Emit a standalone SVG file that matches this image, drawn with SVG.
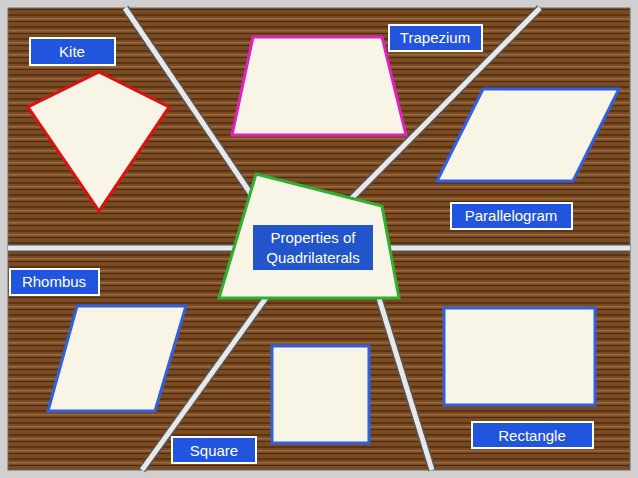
<svg xmlns="http://www.w3.org/2000/svg" width="638" height="478" viewBox="0 0 638 478">
<defs>
<pattern id="wood" width="638" height="12" patternUnits="userSpaceOnUse">
<rect width="638" height="12" fill="#7a4a22"/>
<rect y="2" width="638" height="2" fill="#5a3414"/>
<rect y="6" width="638" height="1.5" fill="#9a6a3a"/>
<rect y="9" width="638" height="1" fill="#4a2a10"/>
</pattern>
<style>
.bar{stroke:#555;stroke-width:8;stroke-linecap:butt}
.bari{stroke:#e8e8e8;stroke-width:5}
.lbl{fill:#2255dd;stroke:#fff;stroke-width:2}
.t{font-family:"Liberation Sans",Arial,sans-serif;font-size:15px;fill:#fff;text-anchor:middle}
.sh{fill:#f8f4e6;stroke-width:3}
</style>
</defs>
<rect width="638" height="478" fill="#d0d0d0"/>
<rect x="8" y="8" width="622" height="462" fill="url(#wood)"/>
<rect x="8" y="8" width="622" height="462" fill="none" stroke="#666" stroke-width="1"/>
<g id="dividers">
<line class="bar" x1="125" y1="8" x2="255" y2="200"/><line class="bari" x1="125" y1="8" x2="255" y2="200"/>
<line class="bar" x1="540" y1="8" x2="350" y2="200"/><line class="bari" x1="540" y1="8" x2="350" y2="200"/>
<line class="bar" x1="8" y1="248" x2="630" y2="248"/><line class="bari" x1="8" y1="248" x2="630" y2="248"/>
<line class="bar" x1="268" y1="295" x2="142" y2="470"/><line class="bari" x1="268" y1="295" x2="142" y2="470"/>
<line class="bar" x1="378" y1="295" x2="432" y2="470"/><line class="bari" x1="378" y1="295" x2="432" y2="470"/>
</g>
<g id="kite"><polygon class="sh" stroke="#e01010" points="99,72 169,107 99,211 28,107"/>
<rect class="lbl" x="30" y="38" width="85" height="27"/><text class="t" x="72" y="57">Kite</text></g>
<g id="trapezium"><polygon class="sh" stroke="#e020c0" points="253,37 382,37 406,135 232,135"/>
<rect class="lbl" x="389" y="25" width="93" height="26"/><text class="t" x="435" y="43">Trapezium</text></g>
<g id="parallelogram"><polygon class="sh" stroke="#3060dd" points="483,89 619,89 573,181 437,181"/>
<rect class="lbl" x="451" y="203" width="121" height="26"/><text class="t" x="511" y="221">Parallelogram</text></g>
<g id="center"><polygon class="sh" stroke="#30b030" points="256,174 382,206 399,298 219,298"/>
<rect x="253" y="225" width="120" height="45" fill="#2255cc"/>
<text class="t" x="313" y="243">Properties of</text><text class="t" x="313" y="263">Quadrilaterals</text></g>
<g id="rhombus"><polygon class="sh" stroke="#3060dd" points="77,306 186,306 155,411 48,411"/>
<rect class="lbl" x="10" y="269" width="89" height="26"/><text class="t" x="54" y="287">Rhombus</text></g>
<g id="square"><rect class="sh" stroke="#3060dd" x="272" y="346" width="97" height="97"/>
<rect class="lbl" x="172" y="437" width="84" height="26"/><text class="t" x="214" y="456">Square</text></g>
<g id="rectangle"><rect class="sh" stroke="#3060dd" x="444" y="308" width="151" height="97"/>
<rect class="lbl" x="472" y="422" width="121" height="26"/><text class="t" x="532" y="441">Rectangle</text></g>
</svg>
